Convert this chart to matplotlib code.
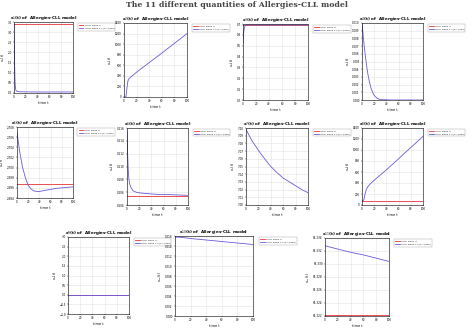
import numpy as np
import matplotlib.pyplot as plt

plt.rcParams['font.family'] = ['DejaVu Sans']

# simulated trajectories of the 11 state variables (time 0..100)
t_x1 = [0, 0.5, 1, 1.5, 2, 3, 4, 5, 10, 20, 40, 60, 80, 100]
x1_ic = 3.38
x1_eps = [3.38, 2.3, 1.5, 0.8, 0.4, 0.15, 0.1, 0.08, 0.06, 0.055, 0.05, 0.05, 0.05, 0.05]

t_x2 = [0, 2, 3, 4, 5, 6, 7, 8, 10, 20, 40, 60, 80, 100]
x2_ic = 0
x2_eps = [0, 0, 5, 90, 200, 290, 330, 345, 370, 470, 650, 830, 1015, 1200]

t_x3 = [0, 0.5, 1, 2, 3, 4, 6, 10, 20, 50, 100]
x3_ic = 0.691
x3_eps = [0.525, 0.58, 0.62, 0.66, 0.68, 0.689, 0.691, 0.691, 0.691, 0.691, 0.691]

t_x4 = [0, 1, 2, 3, 4, 6, 8, 10, 12, 15, 18, 20, 25, 30, 50, 100]
x4_ic = 0
x4_eps = [0.01, 0.0092, 0.0083, 0.0075, 0.0067, 0.0054, 0.0042, 0.0032, 0.0024, 0.0015,
          0.0009, 0.0006, 0.0002, 0.00005, 0, 0]

t_x5 = [0, 5, 10, 15, 20, 25, 30, 35, 40, 50, 60, 70, 80, 90, 100]
x5_ic = 2.6967
x5_eps = [2.7069, 2.7030, 2.7000, 2.6980, 2.6965, 2.6958, 2.6954, 2.6953, 2.6953,
          2.6955, 2.6957, 2.6959, 2.6960, 2.6961, 2.6962]

t_x6 = [0, 1, 2, 3, 4, 6, 8, 10, 15, 20, 30, 50, 75, 100]
x6_ic = 0.10543
x6_eps = [0.1156, 0.1120, 0.1095, 0.1082, 0.1074, 0.1068, 0.1065, 0.1062, 0.1060,
          0.1059, 0.1058, 0.10565, 0.1056, 0.1055]

t_x7 = [0, 10, 20, 30, 40, 50, 60, 70, 80, 90, 100]
x7_ic = 7.0
x7_eps = [7.098, 7.083, 7.071, 7.060, 7.050, 7.042, 7.035, 7.030, 7.025, 7.020, 7.016]

t_x8 = [0, 2, 3, 5, 7, 10, 15, 20, 30, 40, 50, 60, 70, 80, 90, 100]
x8_ic = 80
x8_eps = [80, 80, 95, 200, 280, 340, 400, 450, 545, 640, 740, 840, 945, 1045, 1145, 1250]

t_x9 = [0, 100]
x9_ic = 0
x9_eps = [0, 0]

t_x10 = [0, 1, 10, 20, 40, 60, 80, 100]
x10_ic = 0
x10_eps = [0.0159, 0.0158, 0.0157, 0.0155, 0.0152, 0.0149, 0.0146, 0.0143]

t_x11 = [0, 20, 40, 60, 80, 100]
x11_ic = 61.3222
x11_eps = [61.3328, 61.3323, 61.3318, 61.3314, 61.3309, 61.3304]

series = [
    (t_x1, x1_ic, x1_eps, (0, 3.5), np.arange(0, 3.51, 0.5)),
    (t_x2, x2_ic, x2_eps, (0, 1400), np.arange(0, 1401, 200)),
    (t_x3, x3_ic, x3_eps, (0, 0.7), np.arange(0, 0.71, 0.1)),
    (t_x4, x4_ic, x4_eps, (0, 0.01), np.arange(0, 0.0101, 0.001)),
    (t_x5, x5_ic, x5_eps, (2.694, 2.708), np.arange(2.694, 2.7081, 0.002)),
    (t_x6, x6_ic, x6_eps, (0.104, 0.116), np.arange(0.104, 0.1161, 0.002)),
    (t_x7, x7_ic, x7_eps, (7.0, 7.1), np.arange(7.0, 7.101, 0.01)),
    (t_x8, x8_ic, x8_eps, (0, 1400), np.arange(0, 1401, 200)),
    (t_x9, x9_ic, x9_eps, (-1, 3), np.arange(-1, 3.01, 0.5)),
    (t_x10, x10_ic, x10_eps, (0, 0.016), np.arange(0, 0.0161, 0.002)),
    (t_x11, x11_ic, x11_eps, (61.322, 61.334), np.arange(61.322, 61.3341, 0.002)),
]

# axes boxes in pixels: left, top, right, bottom
boxes = [
    (14, 22, 73, 93), (124, 23, 187, 97), (243, 24, 308, 100), (362, 23, 423, 100),
    (17, 127, 73, 198), (127, 128, 188, 205), (246, 128, 308, 205), (362, 128, 423, 205),
    (68, 237, 129, 314), (175, 236, 253, 316), (325, 238, 389, 316),
]

W, H = 474, 335
fig = plt.figure(figsize=(W / 100, H / 100), dpi=100)
fig.text(0.5, 0.998, 'The 11 different quantities of Allergies-CLL model',
         ha='center', va='top', fontsize=5.6, family='DejaVu Serif',
         fontweight='bold', color='#444444')

for i, ((t, ic, eps, ylim, yt), (l, tp, r, b)) in enumerate(zip(series, boxes)):
    ax = fig.add_axes([l / W, 1 - b / H, (r - l) / W, (b - tp) / H])
    ax.plot([t[0], t[-1]], [ic, ic], color='#e8323c', lw=0.6, label='Initial value IC')
    ax.plot(t, eps, color='#6a5ad8', lw=0.6, label='Initial value + ε (ε=1/100)')
    ax.set_xlim(0, 100)
    ax.set_ylim(*ylim)
    ax.set_xticks([0, 20, 40, 60, 80, 100])
    ax.set_yticks(yt)
    ax.grid(True, color='#e3e3e3', lw=0.4)
    ax.tick_params(labelsize=2, length=1, width=0.3, pad=0.6)
    for s in ax.spines.values():
        s.set_linewidth(0.4)
    name = 'x$_{%d}$(t)' % (i + 1)
    ax.set_title(name + ' of  Allergies-CLL model', fontsize=3, fontweight='bold', pad=1.5)
    ax.set_ylabel(name, fontsize=2.5, labelpad=0.5)
    ax.set_xlabel('time t', fontsize=2.5, labelpad=1)
    leg = ax.legend(loc='upper left', bbox_to_anchor=(1.06, 1.0), fontsize=1.6,
                    frameon=True, fancybox=False, handlelength=2.0, borderpad=0.6,
                    handletextpad=0.5)
    leg.get_frame().set_linewidth(0.3)
    leg.get_frame().set_edgecolor('#888888')

fig.savefig('out.png', dpi=100)
